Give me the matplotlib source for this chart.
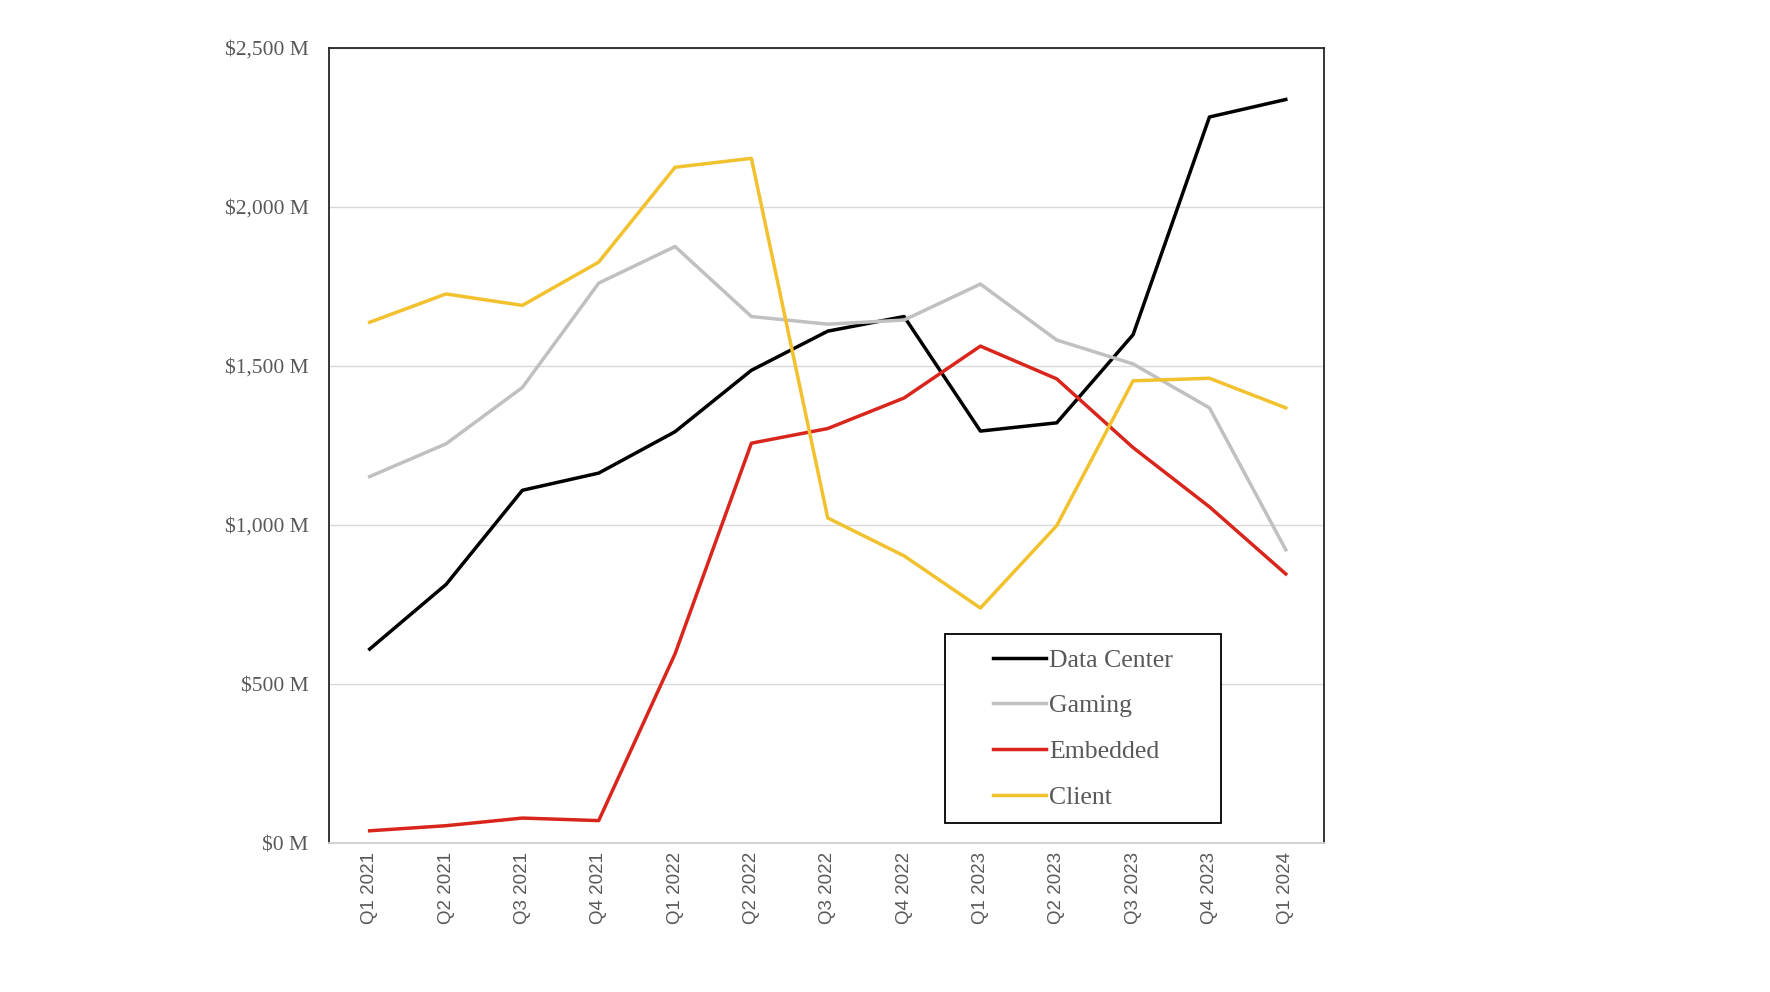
import matplotlib.pyplot as plt
from matplotlib.patches import Rectangle

quarters = ["Q1 2021", "Q2 2021", "Q3 2021", "Q4 2021", "Q1 2022", "Q2 2022", "Q3 2022",
            "Q4 2022", "Q1 2023", "Q2 2023", "Q3 2023", "Q4 2023", "Q1 2024"]

data_center = [610, 813, 1109, 1163, 1293, 1486, 1609, 1655, 1295, 1321, 1598, 2282, 2337]
gaming = [1152, 1255, 1432, 1760, 1875, 1655, 1631, 1644, 1757, 1581, 1506, 1368, 922]
embedded = [39, 55, 79, 71, 595, 1257, 1303, 1399, 1562, 1459, 1243, 1057, 846]
client = [1637, 1726, 1690, 1826, 2124, 2152, 1022, 903, 739, 998, 1453, 1461, 1368]

series = [("Data Center", data_center, "#000000"),
          ("Gaming", gaming, "#c0c0c0"),
          ("Embedded", embedded, "#d9261c"),
          ("Client", client, "#f2c12e")]

yticks = [0, 500, 1000, 1500, 2000, 2500]
ytick_labels = ["$0 M", "$500 M", "$1,000 M", "$1,500 M", "$2,000 M", "$2,500 M"]

fig = plt.figure(figsize=(17.7, 9.92), dpi=100)
ax = fig.add_axes([0.186, 0.150, 0.562, 0.802])

x = list(range(len(quarters)))
for name, vals, col in series:
    ax.plot(x, vals, color=col, linewidth=2.5, label=name)

ax.set_xlim(-0.53, 12.5)
ax.set_ylim(0, 2500)
ax.set_yticks(yticks)
ax.set_yticklabels(ytick_labels, fontfamily="Liberation Serif", fontsize=15.5, color="#595959")
ax.set_xticks(x)
ax.set_xticklabels(quarters, rotation=90, fontfamily="Liberation Sans", fontsize=13.5, color="#595959")
ax.tick_params(axis="both", length=0)
ax.tick_params(axis="y", pad=15)
ax.tick_params(axis="x", pad=6)

ax.grid(axis="y", color="#d9d9d9", linewidth=1)
ax.set_axisbelow(True)
for side in ["left", "top", "right"]:
    ax.spines[side].set_color("#262626")
    ax.spines[side].set_linewidth(1.3)
ax.spines["bottom"].set_color("#d0d0d0")
ax.spines["bottom"].set_linewidth(1.3)

# legend box drawn by hand so the entries can sit centred inside it
bx, by, bw, bh = 0.619, 0.0255, 0.277, 0.237
ax.add_patch(Rectangle((bx, by), bw, bh, transform=ax.transAxes, facecolor="white",
                       edgecolor="black", linewidth=1.3, zorder=4.5))
ax.legend(loc="center", bbox_to_anchor=(bx + bw / 2, by + bh / 2), frameon=False,
          prop={"family": "Liberation Serif", "size": 18.5}, handlelength=2.06, handletextpad=0.12,
          labelspacing=0.88, borderpad=0, labelcolor="#595959")

plt.savefig("out.png", dpi=100)
